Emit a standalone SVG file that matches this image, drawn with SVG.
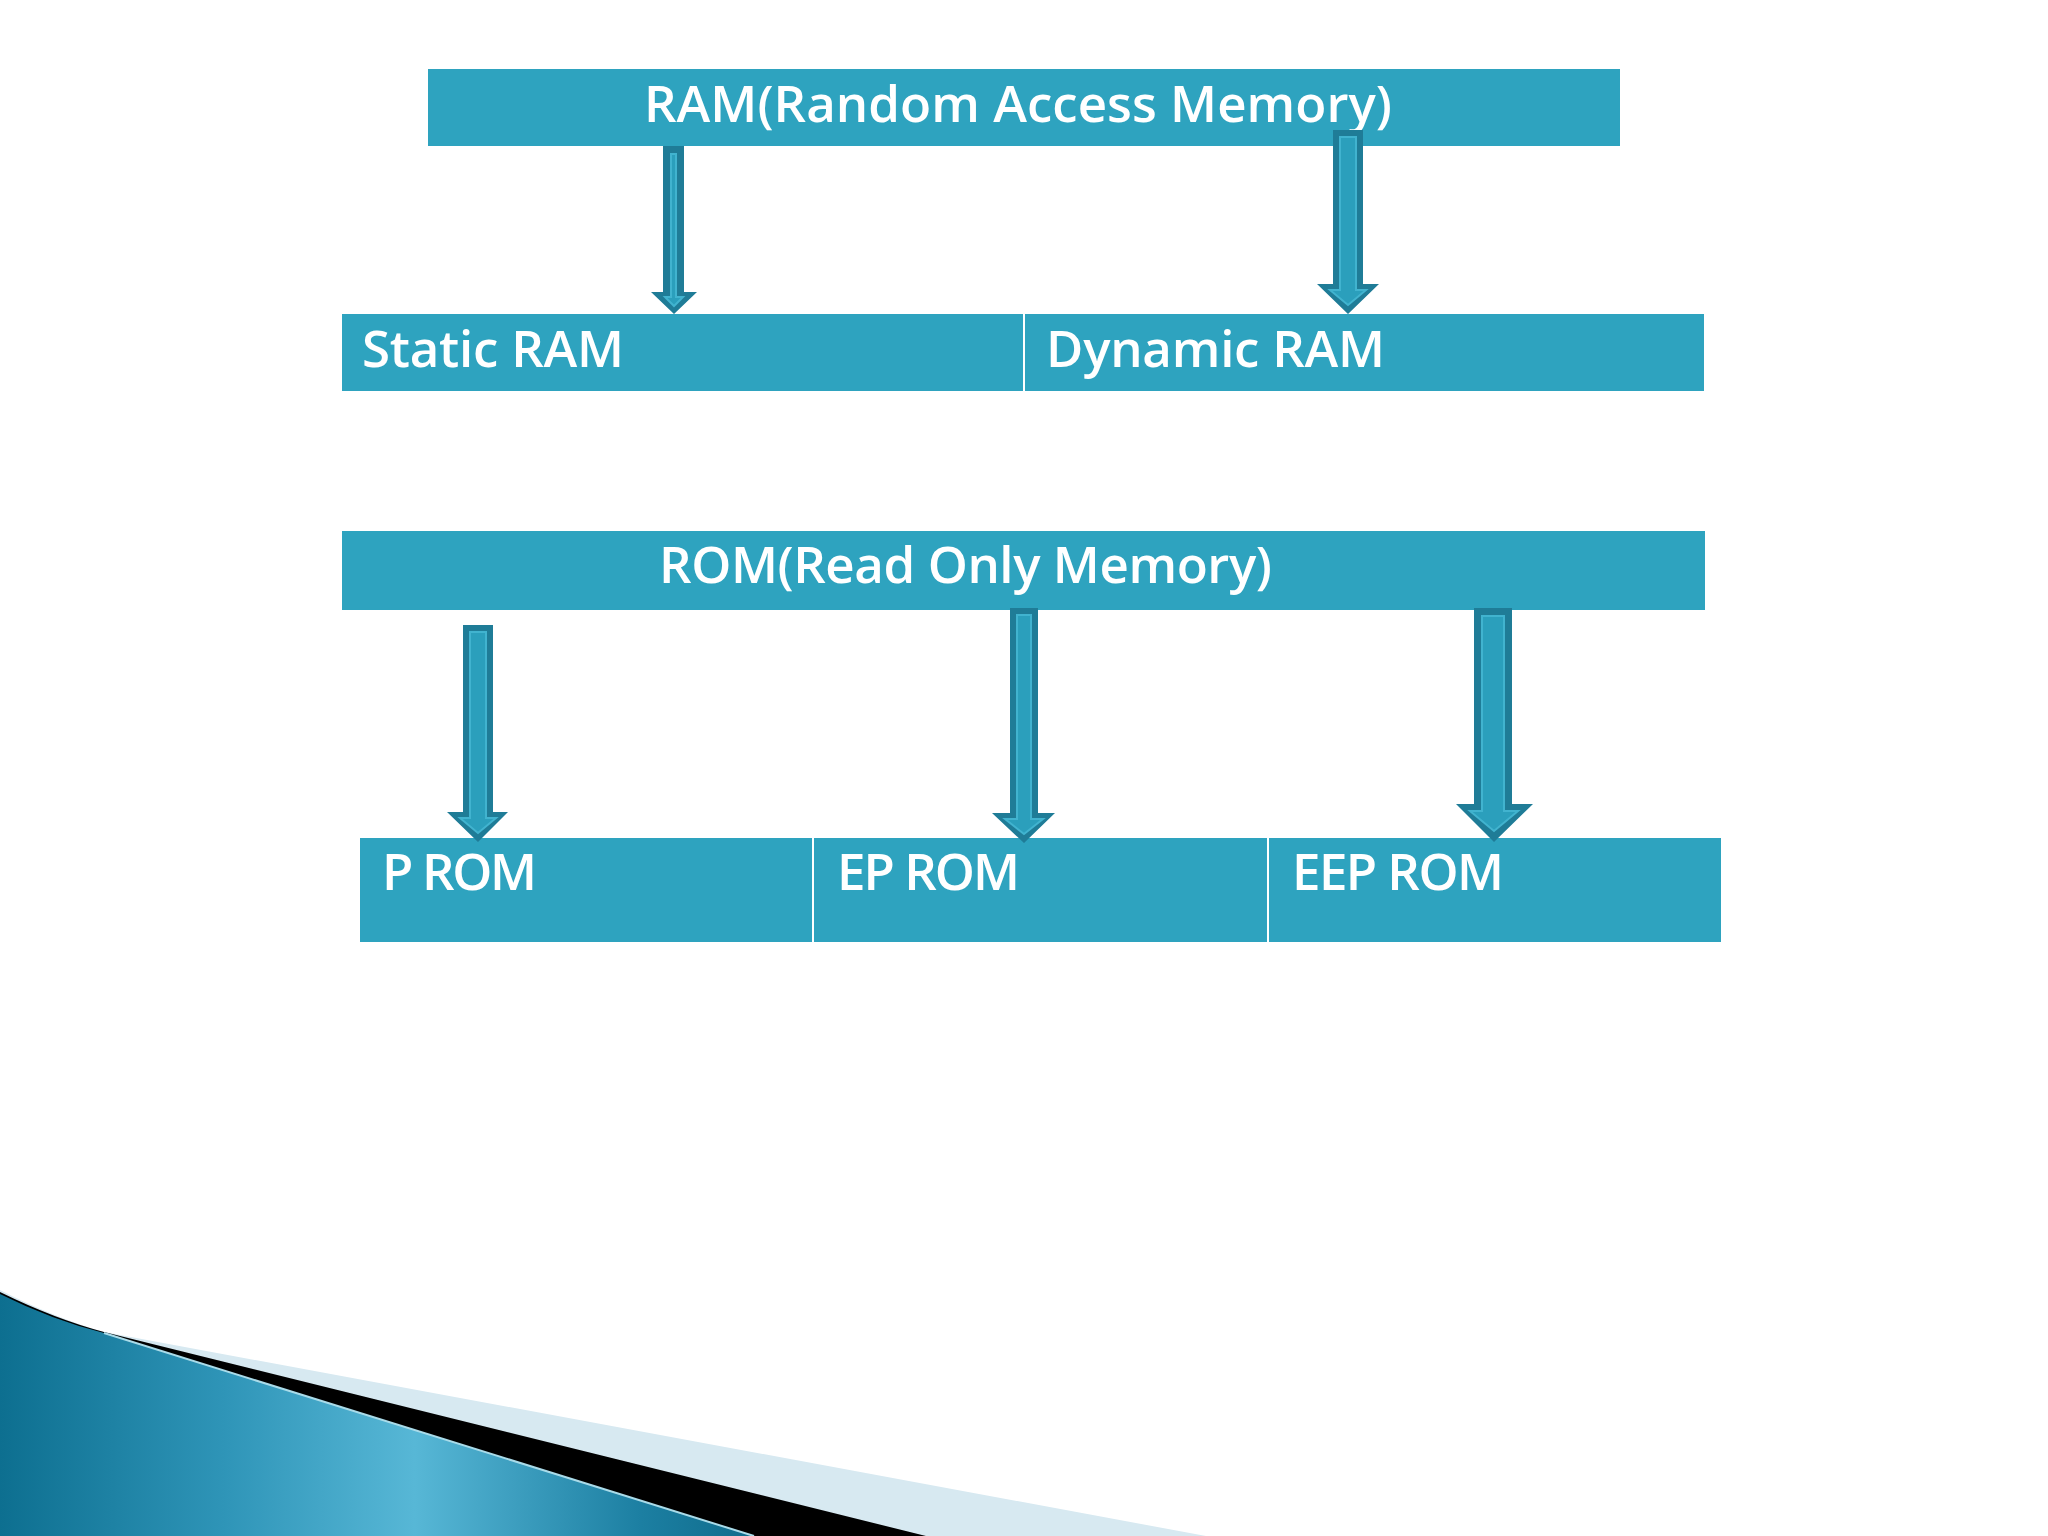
<svg xmlns="http://www.w3.org/2000/svg" width="2048" height="1536" viewBox="0 0 2048 1536">
<defs>
<style>
.box{fill:#2ea3bf;}
.lbl{fill:#ffffff;font-family:"Open Sans","DejaVu Sans",sans-serif;font-weight:600;font-size:51px;}
.aout{fill:#1f7c97;}
.ain{fill:#2b9fbc;stroke:#41b3cf;stroke-width:2;}
</style>
<linearGradient id="swoosh" x1="0" y1="0" x2="1" y2="0">
<stop offset="0" stop-color="#0d6f90"/>
<stop offset="0.3" stop-color="#2f95b8"/>
<stop offset="0.55" stop-color="#57b7d6"/>
<stop offset="0.85" stop-color="#1c7fa2"/>
<stop offset="1" stop-color="#0f6c8c"/>
</linearGradient>
</defs>
<rect width="2048" height="1536" fill="#ffffff"/>

<g id="swoosh-decoration">
<path d="M0,1290 Q55,1318 104,1332 L1206,1536 L0,1536 Z" fill="#d7e9f1"/>
<path d="M0,1292 Q55,1319 104,1332 L926,1536 L0,1536 Z" fill="#000000"/>
<path d="M0,1294 Q52,1320 104,1333 L754,1536 L0,1536 Z" fill="url(#swoosh)"/>
<path d="M104,1333 L754,1536" stroke="#a9dbe9" stroke-width="2" fill="none"/>
</g>

<g id="node-ram">
<rect class="box" x="428" y="69" width="1192" height="77"/>
<text class="lbl" x="644" y="122" textLength="748">RAM(Random Access Memory)</text>
</g>
<g id="node-static-ram">
<rect class="box" x="342" y="314" width="681" height="77"/>
<text class="lbl" x="362" y="367" textLength="262">Static RAM</text>
</g>
<g id="node-dynamic-ram">
<rect class="box" x="1025" y="314" width="679" height="77"/>
<text class="lbl" x="1046" y="367" textLength="339">Dynamic RAM</text>
</g>
<g id="node-rom">
<rect class="box" x="342" y="531" width="1363" height="79"/>
<text class="lbl" x="659" y="583" textLength="613">ROM(Read Only Memory)</text>
</g>
<g id="node-prom">
<rect class="box" x="360" y="838" width="452" height="104"/>
<text class="lbl" x="382" y="890" textLength="155">P ROM</text>
</g>
<g id="node-eprom">
<rect class="box" x="814" y="838" width="453" height="104"/>
<text class="lbl" x="837" y="890" textLength="183">EP ROM</text>
</g>
<g id="node-eeprom">
<rect class="box" x="1269" y="838" width="452" height="104"/>
<text class="lbl" x="1292" y="890" textLength="212">EEP ROM</text>
</g>

<g id="connectors">
<g id="arrow-ram-static">
<path class="aout" d="M663,146 L684,146 L684,292 L697,292 L674,314 L651,292 L663,292 Z"/>
<path class="ain" d="M671,154 L676,154 L676,297 L683,297 L674,306 L665,297 L671,297 Z"/>
</g>
<g id="arrow-ram-dynamic">
<path class="aout" d="M1333,130 L1363,130 L1363,284 L1379,284 L1348,314 L1317,284 L1333,284 Z"/>
<path class="ain" d="M1340,137 L1356,137 L1356,290 L1366,290 L1348,305 L1330,290 L1340,290 Z"/>
</g>
<g id="arrow-rom-prom">
<path class="aout" d="M463,625 L493,625 L493,812 L508,812 L478,842 L447,812 L463,812 Z"/>
<path class="ain" d="M470,632 L486,632 L486,818 L496,818 L478,833 L460,818 L470,818 Z"/>
</g>
<g id="arrow-rom-eprom">
<path class="aout" d="M1010,608 L1038,608 L1038,813 L1055,813 L1024,843 L992,813 L1010,813 Z"/>
<path class="ain" d="M1017,615 L1031,615 L1031,819 L1043,819 L1024,834 L1005,819 L1017,819 Z"/>
</g>
<g id="arrow-rom-eeprom">
<path class="aout" d="M1474,608 L1512,608 L1512,804 L1533,804 L1494,842 L1456,804 L1474,804 Z"/>
<path class="ain" d="M1482,616 L1504,616 L1504,811 L1518,811 L1494,831 L1470,811 L1482,811 Z"/>
</g>
</g>
</svg>
